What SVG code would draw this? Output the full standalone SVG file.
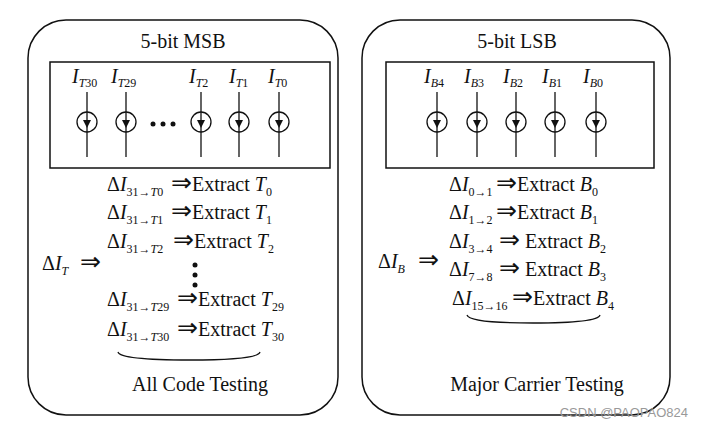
<svg xmlns="http://www.w3.org/2000/svg" width="701" height="428" viewBox="0 0 701 428">
<style>
text{font-family:"Liberation Serif","Times New Roman",serif;font-size:20px;fill:#111}
.s{font-size:12px}
.i{font-style:italic}
.a{font-size:25px}
.b{fill:none;stroke:#111;stroke-width:1.5}
.w{fill:none;stroke:#111;stroke-width:1.3}
</style>
<defs>
<g id="src"><line x1="0" y1="-30" x2="0" y2="35" class="w"/><circle cx="0" cy="0" r="10" class="w" fill="#fff"/><path d="M-4,-2 L4,-2 L0,6Z" fill="#111"/></g>
</defs>
<g id="msb">
<rect x="28" y="20" width="310" height="395" rx="38" class="b"/>
<text x="183" y="48" text-anchor="middle">5-bit MSB</text>
<rect x="50" y="62" width="280" height="106" class="b"/>
<text x="72" y="83" class="i">I<tspan class="s" dy="4">T</tspan><tspan class="s" font-style="normal">30</tspan></text>
<text x="111" y="83" class="i">I<tspan class="s" dy="4">T</tspan><tspan class="s" font-style="normal">29</tspan></text>
<text x="189" y="83" class="i">I<tspan class="s" dy="4">T</tspan><tspan class="s" font-style="normal">2</tspan></text>
<text x="229" y="83" class="i">I<tspan class="s" dy="4">T</tspan><tspan class="s" font-style="normal">1</tspan></text>
<text x="268" y="83" class="i">I<tspan class="s" dy="4">T</tspan><tspan class="s" font-style="normal">0</tspan></text>
<use href="#src" x="87" y="122"/><use href="#src" x="126" y="122"/><use href="#src" x="201" y="122"/><use href="#src" x="239" y="122"/><use href="#src" x="279" y="122"/>
<circle cx="153" cy="124" r="2.5" fill="#111"/><circle cx="163" cy="124" r="2.5" fill="#111"/><circle cx="173" cy="124" r="2.5" fill="#111"/>
<text x="107" y="191">Δ<tspan class="i">I</tspan><tspan class="s" dy="5">31→<tspan class="i">T</tspan>0</tspan><tspan class="a" x="171" dy="-5">⇒</tspan>Extract <tspan class="i">T</tspan><tspan class="s" dy="5">0</tspan></text>
<text x="107" y="219">Δ<tspan class="i">I</tspan><tspan class="s" dy="5">31→<tspan class="i">T</tspan>1</tspan><tspan class="a" x="171" dy="-5">⇒</tspan>Extract <tspan class="i">T</tspan><tspan class="s" dy="5">1</tspan></text>
<text x="107" y="248">Δ<tspan class="i">I</tspan><tspan class="s" dy="5">31→<tspan class="i">T</tspan>2</tspan><tspan class="a" x="173" dy="-5">⇒</tspan>Extract <tspan class="i">T</tspan><tspan class="s" dy="5">2</tspan></text>
<circle cx="195" cy="265" r="2.5" fill="#111"/><circle cx="195" cy="275" r="2.5" fill="#111"/><circle cx="195" cy="285" r="2.5" fill="#111"/>
<text x="42" y="270">Δ<tspan class="i">I</tspan><tspan class="s i" dy="5">T</tspan><tspan class="a" x="80" dy="-5">⇒</tspan></text>
<text x="107" y="306">Δ<tspan class="i">I</tspan><tspan class="s" dy="5">31→<tspan class="i">T</tspan>29</tspan><tspan class="a" x="177" dy="-5">⇒</tspan>Extract <tspan class="i">T</tspan><tspan class="s" dy="5">29</tspan></text>
<text x="107" y="336">Δ<tspan class="i">I</tspan><tspan class="s" dy="5">31→<tspan class="i">T</tspan>30</tspan><tspan class="a" x="177" dy="-5">⇒</tspan>Extract <tspan class="i">T</tspan><tspan class="s" dy="5">30</tspan></text>
<path d="M118,352 Q120,360 190,360 Q258,360 260,352" class="w"/>
<text x="200" y="391" text-anchor="middle">All Code Testing</text>
</g>
<g id="lsb">
<rect x="362" y="20" width="308" height="395" rx="38" class="b"/>
<text x="517" y="48" text-anchor="middle">5-bit LSB</text>
<rect x="386" y="62" width="268" height="106" class="b"/>
<text x="424" y="83" class="i">I<tspan class="s" dy="4">B</tspan><tspan class="s" font-style="normal">4</tspan></text>
<text x="464" y="83" class="i">I<tspan class="s" dy="4">B</tspan><tspan class="s" font-style="normal">3</tspan></text>
<text x="503" y="83" class="i">I<tspan class="s" dy="4">B</tspan><tspan class="s" font-style="normal">2</tspan></text>
<text x="542" y="83" class="i">I<tspan class="s" dy="4">B</tspan><tspan class="s" font-style="normal">1</tspan></text>
<text x="583" y="83" class="i">I<tspan class="s" dy="4">B</tspan><tspan class="s" font-style="normal">0</tspan></text>
<use href="#src" x="437" y="122"/><use href="#src" x="477" y="122"/><use href="#src" x="516" y="122"/><use href="#src" x="555" y="122"/><use href="#src" x="596" y="122"/>
<text x="449" y="191">Δ<tspan class="i">I</tspan><tspan class="s" dy="5">0→1</tspan><tspan class="a" x="496" dy="-5">⇒</tspan>Extract <tspan class="i">B</tspan><tspan class="s" dy="5">0</tspan></text>
<text x="449" y="219">Δ<tspan class="i">I</tspan><tspan class="s" dy="5">1→2</tspan><tspan class="a" x="496" dy="-5">⇒</tspan>Extract <tspan class="i">B</tspan><tspan class="s" dy="5">1</tspan></text>
<text x="449" y="248">Δ<tspan class="i">I</tspan><tspan class="s" dy="5">3→4</tspan><tspan class="a" x="499" dy="-5">⇒</tspan> Extract <tspan class="i">B</tspan><tspan class="s" dy="5">2</tspan></text>
<text x="449" y="276">Δ<tspan class="i">I</tspan><tspan class="s" dy="5">7→8</tspan><tspan class="a" x="499" dy="-5">⇒</tspan> Extract <tspan class="i">B</tspan><tspan class="s" dy="5">3</tspan></text>
<text x="378" y="268">Δ<tspan class="i">I</tspan><tspan class="s i" dy="5">B</tspan><tspan class="a" x="418" dy="-5">⇒</tspan></text>
<text x="452" y="305">Δ<tspan class="i">I</tspan><tspan class="s" dy="5">15→16</tspan><tspan class="a" x="512" dy="-5">⇒</tspan>Extract <tspan class="i">B</tspan><tspan class="s" dy="5">4</tspan></text>
<path d="M467,315 Q469,323 533,323 Q598,323 600,315" class="w"/>
<text x="537" y="391" text-anchor="middle">Major Carrier Testing</text>
</g>
<text x="688" y="417" text-anchor="end" style="font-family:'Liberation Sans',sans-serif;font-size:13px;fill:#999">CSDN @PAOPAO824</text>
</svg>
